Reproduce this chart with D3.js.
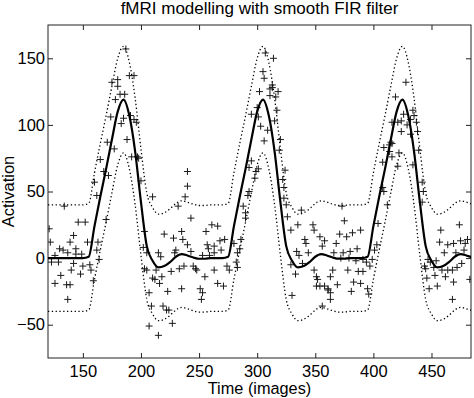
<!DOCTYPE html>
<html>
<head>
<meta charset="utf-8">
<script src="https://cdn.jsdelivr.net/npm/d3@7"></script>
<style>
  body { margin: 0; background: #fff; }
  text { font-family: "Liberation Sans", Arial, Helvetica, sans-serif; fill: #000; }
</style>
</head>
<body>
<div id="chart"></div>
<script>
var svgWidth = 474;
var svgHeight = 398;

var margin = { top: 25, right: 3, bottom: 40, left: 48 };
var width = svgWidth - margin.left - margin.right;
var height = svgHeight - margin.top - margin.bottom;

// time axis of the fitted curves (images)
var fitTime = d3.range(120, 486, 5);

// fitted response (smooth FIR)
var fitMean = [
  0, 0, 0, 0, 0, 0, 0,
  1, 24, 46, 67, 89, 110, 119, 107, 80, 42, 9, -2, -7, -6, -3, 1, 3, 2, 0.5, -0.5, -0.5, 0, 0, 0,
  1, 24, 46, 67, 89, 110, 119, 107, 80, 42, 9, -2, -7, -6, -3, 1, 3, 2, 0.5, -0.5, -0.5, 0, 0, 0,
  1, 24, 46, 67, 89, 110, 119, 107, 80, 42, 9, -2, -7, -6, -3, 1, 3, 2, 0.5
];

// dotted confidence limits
var fitUpper = [
  40, 40, 40, 40, 40, 40, 40,
  41, 64, 86, 107, 129, 150, 159, 147, 120, 82, 49, 38, 33, 34, 37, 41, 43, 42, 40.5, 39.5, 39.5, 40, 40, 40,
  41, 64, 86, 107, 129, 150, 159, 147, 120, 82, 49, 38, 33, 34, 37, 41, 43, 42, 40.5, 39.5, 39.5, 40, 40, 40,
  41, 64, 86, 107, 129, 150, 159, 147, 120, 82, 49, 38, 33, 34, 37, 41, 43, 42, 40.5
];
var fitLower = [
  -40, -40, -40, -40, -40, -40, -40,
  -39, -16, 6, 27, 49, 70, 79, 67, 40, 2, -31, -42, -47, -46, -43, -39, -37, -38, -39.5, -40.5, -40.5, -40, -40, -40,
  -39, -16, 6, 27, 49, 70, 79, 67, 40, 2, -31, -42, -47, -46, -43, -39, -37, -38, -39.5, -40.5, -40.5, -40, -40, -40,
  -39, -16, 6, 27, 49, 70, 79, 67, 40, 2, -31, -42, -47, -46, -43, -39, -37, -38, -39.5
];

// observed activation (+ markers)
var obsTime = [
  187, 190, 194, 175, 180, 180, 182, 186, 178, 191, 185, 183, 194, 196, 174, 171, 188, 177, 165, 192, 197, 198, 172, 160, 200, 240, 240, 168,
  134, 146, 152, 121, 122, 142, 139, 154, 130, 133, 144, 137, 144, 126, 149, 162, 163, 170, 162, 123, 129, 142, 150, 156, 157, 140, 148, 164, 131, 159, 126, 136, 139, 137,
  203, 202, 205, 203, 205, 210, 213, 207, 209, 207, 215, 219, 222, 224, 227, 216, 212, 210, 223, 235, 218, 226, 233, 237, 215, 217, 229, 220, 228, 235, 236, 240, 230, 232, 238,
  307, 314, 305, 306, 313, 313, 302, 311, 318, 311, 316, 300, 317, 295, 301, 315, 303, 309, 306, 320, 319, 295, 293, 301, 299, 324, 298, 322, 323, 293,
  243, 256, 261, 266, 243, 257, 258, 268, 272, 263, 269, 263, 253, 259, 286, 285, 283, 280, 245, 247, 248, 263, 274, 276, 282, 283, 255, 266, 271, 251, 253, 252, 288, 290, 290, 292,
  323, 325, 326, 329, 335, 338, 348, 349, 341, 342, 354, 358, 356, 334, 336, 344, 339, 329, 333, 349, 351, 352, 351, 354, 358, 361, 330, 356,
  428, 419, 426, 434, 435, 432, 437, 416, 421, 424, 429, 424, 438, 432, 415, 416, 414, 409, 414, 422, 439, 416, 408, 434, 421, 442, 408, 443,
  373, 375, 371, 377, 382, 389, 368, 386, 374, 380, 366, 372, 379, 391, 394, 385, 399, 401, 403, 404, 412, 409, 365, 378, 387, 391, 397, 363, 361, 369, 383, 389, 395, 396, 381, 363, 363,
  442, 474, 458, 457, 464, 469, 475, 479, 481, 478, 461, 471, 447, 449, 454, 444, 445, 452, 459, 464, 468, 472, 476, 453, 462, 469, 455, 448, 483, 468, 446
];
var obsValue = [
  157, 137, 137, 132, 134, 129, 123, 123, 119, 107, 105, 101, 104, 102, 106, 87, 89, 82, 74, 76, 76, 75, 62, 57, 58, 65, 54, 65,
  39, 27, 27, 22, 12, 17, 12, 12, 7, 6, 7, 4, 3, 2, 3, 6, 12, 29, 47, -3, -3, -4, -6, -5, -9, -9, -12, -1, -13, -17, -19, -20, -20, -31,
  20, 8, 4, -8, -9, 46, -9, -26, -36, -51, -58, -36, -39, -39, -49, -19, -16, -15, -25, -23, -14, -10, -8, -6, 4, 1, 4, 18, 15, 20, 14, 10, 6, 39, 46,
  154, 150, 140, 135, 130, 128, 125, 127, 125, 122, 121, 113, 111, 108, 106, 103, 99, 96, 88, 89, 81, 73, 68, 67, 65, 66, 60, 59, 53, 50,
  30, 20, 25, 24, 5, 10, 7, 13, 14, 9, 6, 4, 2, 2, 14, 7, 4, 11, -6, -8, -9, -9, -6, -9, -3, -7, -14, -19, -21, -23, -26, -31, 39, 34, 30, 47,
  45, 40, 31, 21, 25, 36, 25, 21, 14, 11, 16, 13, 9, 5, 2, 4, -4, -5, -12, -9, -14, -16, -21, -21, -21, -24, -28, -36,
  132, 121, 108, 111, 107, 104, 102, 102, 102, 103, 100, 95, 95, 93, 87, 86, 85, 83, 80, 79, 81, 76, 72, 70, 69, 57, 53, 50,
  39, 28, 18, 16, 19, 21, 11, 7, 4, 5, 4, 0, 0, -1, -3, -2, -1, 6, 10, 26, 40, 50, -9, -9, -10, -10, -6, -14, -23, -20, -18, -19, -23, -27, -25, -26, -31,
  42, 25, 21, 12, 10, 11, 13, 11, 14, 6, 4, 4, -1, -3, -2, -6, -8, -7, -9, -9, -9, -7, -4, -13, -14, -18, -21, -23, -16, -31, -15
];

// tick values
var xTicks = [150, 200, 250, 300, 350, 400, 450];
var yTicks = [-50, 0, 50, 100, 150];

var svg = d3.select("#chart")
  .append("svg")
  .attr("width", svgWidth)
  .attr("height", svgHeight);

var chartGroup = svg.append("g")
  .attr("transform", `translate(${margin.left}, ${margin.top})`);

var xScale = d3.scaleLinear().domain([120, 484]).range([0, width]);
var yScale = d3.scaleLinear().domain([-75, 175]).range([height, 0]);

chartGroup.append("clipPath")
  .attr("id", "plotClip")
  .append("rect")
  .attr("width", width)
  .attr("height", height);

// axes with inward ticks on all four sides (matlab box)
chartGroup.append("g")
  .attr("transform", `translate(0, ${height})`)
  .call(d3.axisBottom(xScale).tickValues(xTicks).tickSize(-5).tickPadding(7))
  .call(g => g.selectAll("text").attr("font-size", 16.5).attr("dy", "0.71em"));

chartGroup.append("g")
  .call(d3.axisTop(xScale).tickValues(xTicks).tickSize(-5).tickFormat(""));

chartGroup.append("g")
  .call(d3.axisLeft(yScale).tickValues(yTicks).tickSize(-5).tickPadding(3))
  .call(g => g.selectAll("text").attr("font-size", 16.5));

chartGroup.append("g")
  .attr("transform", `translate(${width}, 0)`)
  .call(d3.axisRight(yScale).tickValues(yTicks).tickSize(-5).tickFormat(""));

chartGroup.selectAll(".domain").remove();
chartGroup.selectAll(".tick line").attr("stroke", "#222");

chartGroup.append("rect")
  .attr("width", width)
  .attr("height", height)
  .attr("fill", "none")
  .attr("stroke", "#222")
  .attr("stroke-width", 1);

var plotArea = chartGroup.append("g").attr("clip-path", "url(#plotClip)");

// data markers
plotArea.selectAll(".obs")
  .data(d3.range(obsTime.length))
  .enter()
  .append("path")
  .attr("class", "obs")
  .attr("transform", i => `translate(${xScale(obsTime[i])}, ${yScale(obsValue[i])})`)
  .attr("d", "M-3.5,0H3.5M0,-3.5V3.5")
  .attr("stroke", "#1a1a1a")
  .attr("stroke-width", 1)
  .attr("fill", "none");

var lineFor = function(values) {
  return d3.line()
    .x((d, i) => xScale(fitTime[i]))
    .y(d => yScale(d))
    .curve(d3.curveMonotoneX)(values);
};

// dotted limits
[fitUpper, fitLower].forEach(function(values) {
  plotArea.append("path")
    .attr("d", lineFor(values))
    .attr("fill", "none")
    .attr("stroke", "#000")
    .attr("stroke-width", 1.3)
    .attr("stroke-dasharray", "1.3,2.5");
});

// fitted response
plotArea.append("path")
  .attr("d", lineFor(fitMean))
  .attr("fill", "none")
  .attr("stroke", "#000")
  .attr("stroke-width", 2.2)
  .attr("stroke-linejoin", "round");

// labels
svg.append("text")
  .attr("x", margin.left + width / 2)
  .attr("y", 14)
  .attr("text-anchor", "middle")
  .attr("font-size", 17)
  .text("fMRI modelling with smooth FIR filter");

svg.append("text")
  .attr("x", margin.left + width / 2)
  .attr("y", 393.5)
  .attr("text-anchor", "middle")
  .attr("font-size", 16.3)
  .text("Time (images)");

svg.append("text")
  .attr("transform", `translate(14, ${margin.top + height / 2}) rotate(-90)`)
  .attr("text-anchor", "middle")
  .attr("font-size", 16.5)
  .text("Activation");
</script>
</body>
</html>
